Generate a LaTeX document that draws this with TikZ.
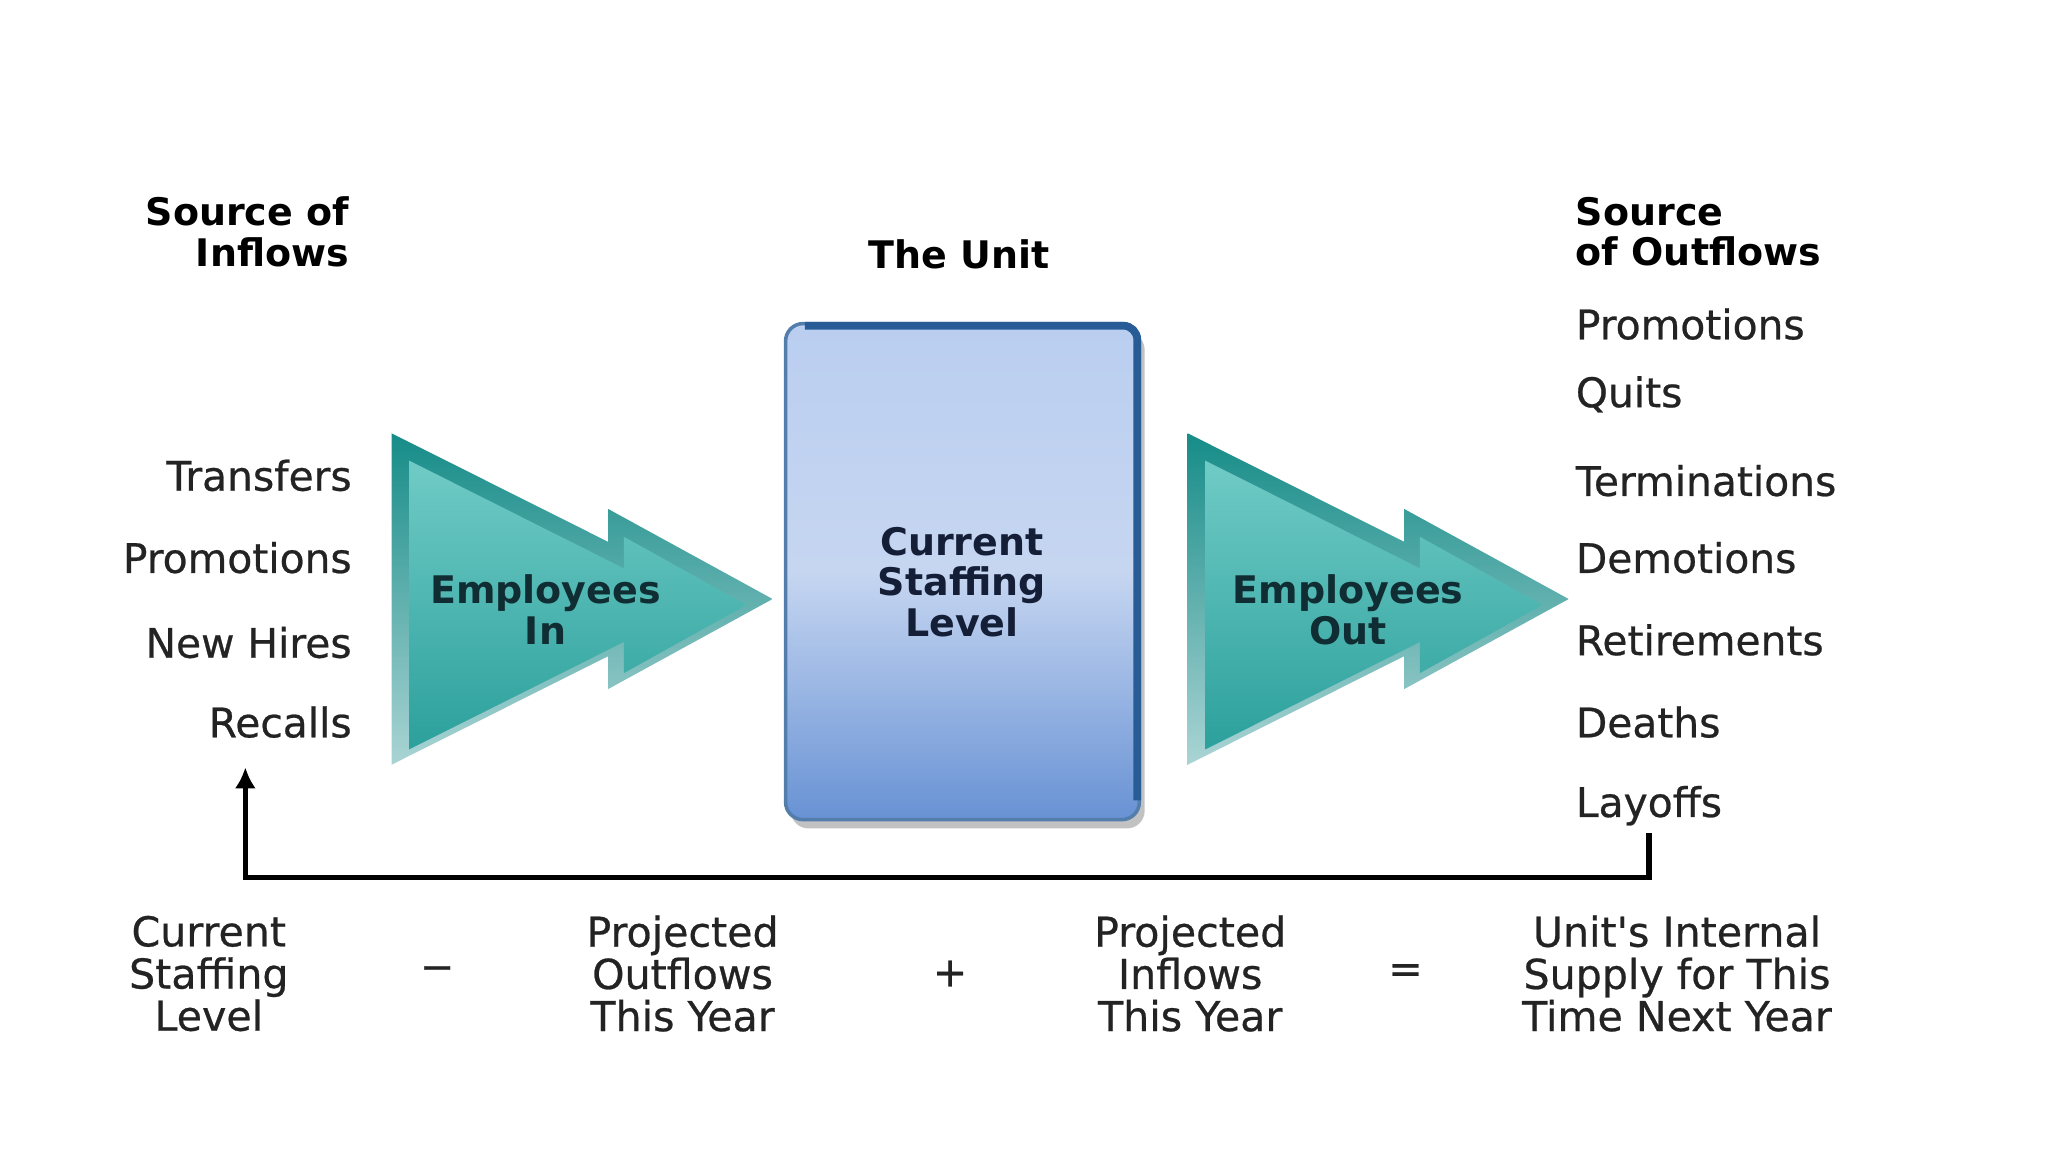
\documentclass[tikz,border=0pt]{standalone}
\usepackage{fontspec}
\setmainfont{DejaVu Sans}
\newfontfamily\itemfont[FakeBold=0.6]{DejaVu Sans}
\usetikzlibrary{arrows.meta,shadows}
\definecolor{tealdark}{RGB}{22,140,136}
\definecolor{teallight}{RGB}{170,212,212}
\definecolor{tealtop}{RGB}{112,203,198}
\definecolor{tealbot}{RGB}{44,160,156}
\definecolor{boxtop}{RGB}{186,206,240}
\definecolor{boxmid}{RGB}{198,214,241}
\definecolor{boxbot}{RGB}{104,146,212}
\definecolor{boxedge}{RGB}{40,92,150}
\definecolor{inktext}{RGB}{35,35,35}
\tikzset{
  srchead/.style={font=\fontsize{10.8}{11.6}\selectfont\bfseries, text=black, inner sep=0pt, align=#1},
  srcitem/.style={font=\itemfont\fontsize{11.6}{12}\selectfont, text=inktext, inner sep=0pt},
  flowtext/.style={font=\fontsize{10.8}{11.6}\selectfont\bfseries, text={rgb,255:red,15;green,45;blue,50}, inner sep=0pt, align=center},
  unitbox/.style={minimum width=3.537cm, minimum height=4.959cm, rounded corners=5pt,
    draw=boxedge!80, line width=1pt, top color=boxtop, bottom color=boxbot, middle color=boxmid,
    drop shadow={shadow xshift=1.5pt, shadow yshift=-2.5pt, fill=black!40, opacity=.6}},
  formula/.style={font=\itemfont\fontsize{11.7}{12}\selectfont, text=inktext, inner sep=0pt, align=center},
  feedback/.style={line width=1.6pt, -{Latex[length=6pt,width=6pt]}}
}
\begin{document}
\begin{tikzpicture}[x=0.01305cm, y=-0.01305cm]
\useasboundingbox (0,0) rectangle (1569.3,882.8);

\node[srchead=right, anchor=east] (inhead) at (268,177.5) {Source of\\Inflows};
\node[srchead=center] (unithead) at (735,195) {The Unit};
\node[srchead=left, anchor=west] (outhead) at (1207,177.5) {Source\\of Outflows};

\foreach \y/\name/\txt in {376/trans/Transfers, 439/promin/Promotions, 504/hires/New Hires, 565/recalls/Recalls}
  \node[srcitem, anchor=base east] (\name) at (270,\y) {\txt};
\foreach \y/\name/\txt in {260/promout/Promotions, 312/quits/Quits, 380/term/Terminations, 439/demo/Demotions, 502/retire/Retirements, 565/deaths/Deaths, 626/layoffs/Layoffs}
  \node[srcitem, anchor=base west] (\name) at (1207,\y) {\txt};

\foreach \ax in {300,910}{
  \begin{scope}[shift={(\ax,459)}]
    \shade[top color=tealdark, bottom color=teallight] (0,-127) -- (166,-43.8) -- (166,-69) -- (292,0) -- (166,69) -- (166,43.8) -- (0,127) -- cycle;
    \shade[top color=tealtop, bottom color=tealbot] (13.6,-106) -- (178,-23.5) -- (178,-47.7) -- (272,4.5) -- (178,56.8) -- (178,32.9) -- (13.6,115.2) -- cycle;
  \end{scope}
}
\node[flowtext] (empin) at (418,467) {Employees\\In};
\node[flowtext] (empout) at (1033,467) {Employees\\Out};

\node[unitbox] (unit) at (737.5,438) {};
\draw[boxedge, line width=2.2pt, rounded corners=4pt] ([shift={(6pt,-1.1pt)}]unit.north west) -- ([shift={(-1.1pt,-1.1pt)}]unit.north east) -- ([shift={(-1.1pt,6pt)}]unit.south east);
\node[flowtext, text={rgb,255:red,20;green,30;blue,55}] (level) at (737,446) {Current\\Staffing\\Level};

\coordinate (fbend) at (188,588);
\draw[feedback] ([yshift=-2pt]layoffs.south) -- ++(0,34) -| (fbend);

\node[formula] (cur) at (160,746) {Current\\Staffing\\Level};
\node[formula] (minus) at (335,746) {−};
\node[formula] (outs) at (523,746) {Projected\\Outflows\\This Year};
\node[formula] (plus) at (728,746) {+};
\node[formula] (ins) at (912,746) {Projected\\Inflows\\This Year};
\node[formula] (equals) at (1077,746) {=};
\node[formula] (supply) at (1285,746) {Unit's Internal\\Supply for This\\Time Next Year};
\end{tikzpicture}
\end{document}
